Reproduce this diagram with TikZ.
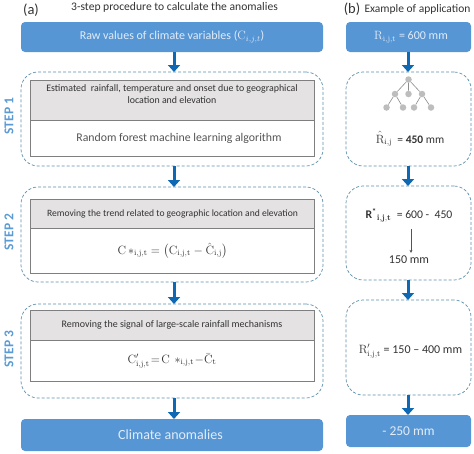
\documentclass[tikz,border=0pt]{standalone}
\usepackage{amsmath}
\usepackage[no-math]{fontspec}
\setmainfont{Carlito}
\usetikzlibrary{arrows.meta,calc}
\definecolor{bluebox}{HTML}{5796D5}
\definecolor{arrowblue}{HTML}{0F68B4}
\definecolor{dashblue}{HTML}{5C8FAB}
\definecolor{stepblue}{HTML}{5A9BD5}
\definecolor{greyfill}{HTML}{E4E2E2}
\definecolor{greyline}{HTML}{7F7F7F}
\definecolor{txt}{HTML}{333333}
\definecolor{txtlight}{HTML}{555555}
\definecolor{treeline}{HTML}{8C8C8C}
\definecolor{treedot}{HTML}{BDBDBD}
\tikzset{
  bluenode/.style={fill=bluebox,rounded corners=4pt,text=white!82!bluebox,anchor=center,inner sep=0pt,outer sep=0pt},
  dashbox/.style={draw=dashblue,densely dashed,line width=0.7pt,rounded corners=17pt,fill=white,inner sep=0pt,outer sep=0pt},
  grey/.style={draw=greyline,fill=greyfill,line width=0.8pt,inner sep=0pt,outer sep=0pt,text=txt,align=center},
  whitebox/.style={draw=greyline,fill=white,line width=0.8pt,inner sep=0pt,outer sep=0pt,text=txt,align=center},
  flow/.style={draw=arrowblue,line width=3pt,-{Triangle[length=7pt,width=12pt]}},
  steplab/.style={rotate=90,text=stepblue,font=\fontsize{13.5}{13.5}\selectfont\bfseries},
  tree/.style={circle,fill=treedot,minimum size=6.5pt,inner sep=0pt},
  treeedge/.style={draw=treeline,line width=0.6pt},
  plain/.style={text=txt,inner sep=0pt},
}
\begin{document}
\begin{tikzpicture}[x=1pt,y=-1pt]
\useasboundingbox (0,0) rectangle (474,453);
% panel a
\node[plain,font=\fontsize{14.5}{14.5}\selectfont] (lA) at (31,10) {(a)};
\node[plain,font=\fontsize{11.6}{11.6}\selectfont] (tA) at (174.5,7.5) {3-step procedure to calculate the anomalies};
\node[bluenode,minimum width=302pt,minimum height=30pt,font=\fontsize{12}{12}\selectfont] (top) at (172,37) {Raw values of climate variables ($\mathrm{C}_{i,j,t}$)};
\node[dashbox,minimum width=302pt,minimum height=94pt] (d1) at (172,119) {};
\node[dashbox,minimum width=302pt,minimum height=95pt] (d2) at (172,234.5) {};
\node[dashbox,minimum width=302pt,minimum height=94pt] (d3) at (172,351) {};
\node[bluenode,minimum width=302pt,minimum height=32pt,font=\fontsize{14}{14}\selectfont] (bot) at (172,435) {\hspace{-3pt}Climate anomalies};
\node[grey,minimum width=284pt,minimum height=40pt,anchor=north] (g1) at (172,80.5) {};
\node[plain,font=\fontsize{9.9}{12}\selectfont,align=center] (g1t) at (172,94.5) {Estimated\ \ rainfall, temperature and onset due to geographical\\location and elevation};
\node[whitebox,minimum width=284pt,minimum height=36pt,font=\fontsize{11.8}{12}\selectfont,text=txtlight] (w1) at (172,138.5) {\hspace{14pt}Random forest machine learning algorithm};
\node[grey,minimum width=284pt,minimum height=29pt,font=\fontsize{9.6}{11}\selectfont] (g2) at (172.5,213.5) {Removing the trend related to geographic location and elevation};
\node[whitebox,minimum width=284pt,minimum height=45pt,font=\fontsize{11.5}{14}\selectfont] (w2) at (172.5,250.5) {$\mathrm{C}\,*_{\mathrm{i,j,t}}=\bigl(\mathrm{C}_{\mathrm{i,j,t}}-\hat{\mathrm{C}}_{\mathrm{i,j}}\bigr)$};
\node[grey,minimum width=284pt,minimum height=30pt,font=\fontsize{10}{11}\selectfont] (g3) at (172,325) {Removing the signal of large-scale rainfall mechanisms};
\node[whitebox,minimum width=284pt,minimum height=41pt,font=\fontsize{11.5}{14}\selectfont] (w3) at (172,360.5) {$\mathrm{C}'_{\mathrm{i,j,t}}\!=\!\mathrm{C}\,*_{\mathrm{i,j,t}}\!-\bar{\mathrm{C}}_{\mathrm{t}}$};
\node[steplab] (s1) at (9,116) {STEP 1};
\node[steplab] (s2) at (9,232) {STEP 2};
\node[steplab] (s3) at (9,349) {STEP 3};
% panel b
\node[plain,font=\fontsize{14.5}{14.5}\selectfont] (lB) at (352,9) {(b)};
\node[plain,font=\fontsize{11.5}{11.5}\selectfont] (tB) at (417.5,9.5) {Example of application};
\node[bluenode,minimum width=125pt,minimum height=30pt,font=\fontsize{12}{12}\selectfont] (rtop) at (408.5,37) {\hspace{5pt}$\mathrm{R}_{\mathrm{i,j,t}}$ = 600 mm};
\node[dashbox,minimum width=125pt,minimum height=94pt] (e1) at (408.5,119) {};
\node[dashbox,minimum width=125pt,minimum height=94pt] (e2) at (408.5,233) {};
\node[dashbox,minimum width=125pt,minimum height=95pt] (e3) at (408.5,347.5) {};
\node[bluenode,minimum width=125pt,minimum height=32pt,font=\fontsize{13.5}{13.5}\selectfont] (rbot) at (408.5,431) {- 250 mm};
% tree
\node[tree] (t0) at (408.5,79.5) {};
\node[tree] (t1) at (395,94) {};
\node[tree] (t2) at (408.5,94) {};
\node[tree] (t3) at (422,94) {};
\node[tree] (t4) at (386.5,107.5) {};
\node[tree] (t5) at (403,107.5) {};
\node[tree] (t6) at (414,107.5) {};
\node[tree] (t7) at (431,107.5) {};
\draw[treeedge] (t0)--(t1) (t0)--(t2) (t0)--(t3) (t1)--(t4) (t1)--(t5) (t3)--(t6) (t3)--(t7);
\node[plain,font=\fontsize{11.5}{13}\selectfont] (r1) at (410,139) {$\hat{\mathrm{R}}_{\mathrm{i,j}}$\ \ = \textbf{450} mm};
\node[plain,font=\fontsize{11.7}{11.7}\selectfont] (r2) at (409,215) {\textbf{R\textsuperscript{*}}$_{\mathbf{i,j,t}}$\ \ = 600 -\ \ 450};
\coordinate (sa) at (411,229);
\node[plain,font=\fontsize{12}{12}\selectfont] (r3) at (409,260) {150 mm};
\draw[line width=0.4pt,draw=txtlight,-{Stealth[length=3pt,width=3pt]},shorten >=3pt] (sa) -- (r3.north -| sa);
\node[plain,font=\fontsize{12}{12}\selectfont] (r4) at (410.5,351) {$\mathrm{R}'_{\mathrm{i,j,t}}$ = 150 -- 400 mm};
% flow arrows
\coordinate (ax) at (174,0);
\coordinate (bx) at (408,0);
\draw[flow] (top.south -| ax) -- (d1.north -| ax);
\draw[flow] (d1.south -| ax) -- (d2.north -| ax);
\draw[flow] (d2.south -| ax) -- (d3.north -| ax);
\draw[flow] (d3.south -| ax) -- (bot.north -| ax);
\draw[flow] (rtop.south -| bx) -- (e1.north -| bx);
\draw[flow] (e1.south -| bx) -- (e2.north -| bx);
\draw[flow] (e2.south -| bx) -- (e3.north -| bx);
\draw[flow] (e3.south -| bx) -- (rbot.north -| bx);
\end{tikzpicture}
\end{document}
